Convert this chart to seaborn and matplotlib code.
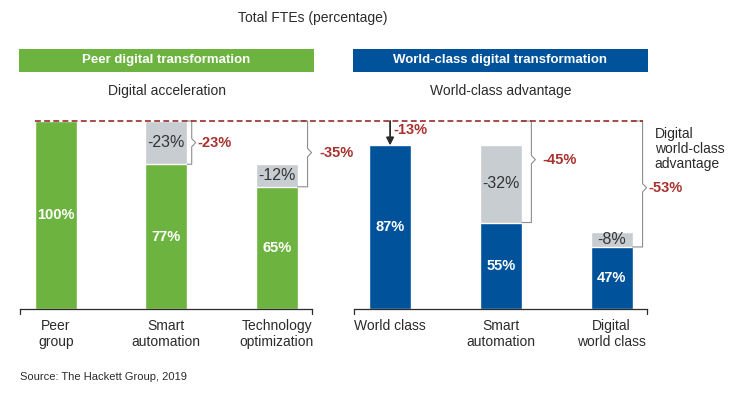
import matplotlib
matplotlib.use("Agg")
import matplotlib.pyplot as plt
from matplotlib.lines import Line2D
from matplotlib.patches import Rectangle
import seaborn as sns
import pandas as pd

# ---- data ----
peer_stages = ["Peer\ngroup", "Smart\nautomation", "Technology\noptimization"]
peer_fte = [100, 77, 65]
peer_cut = [0, 23, 12]

wc_stages = ["World class", "Smart\nautomation", "Digital\nworld class"]
wc_fte = [87, 55, 47]          # printed values
wc_cut = [0, 32, 8]
# bar heights as drawn in the source graphic (the blue panel is not to scale)
wc_drawn = [87, 46, 33]
wc_drawn_cut = [0, 41, 8]

peer_steps = [("-23%", 1), ("-35%", 2)]
wc_steps = [("-13%", 0), ("-45%", 1), ("-53%", 2)]

GREEN = "#6cb33f"
BLUE = "#00529b"
GRAY = "#c8cdd2"
RED = "#a8322d"
DARK = "#2b2b2b"
LINE = "#8e8e8e"

sns.set_theme(style="white")
plt.rcParams["font.family"] = ["Liberation Sans", "DejaVu Sans"]

W, H = 748, 393
fig = plt.figure(figsize=(W / 100, H / 100), dpi=100)


def fx(px):
    return px / W


def fy(py):
    return 1 - py / H


def make_ax(x0, x1):
    ax = fig.add_axes([fx(x0), fy(309), (x1 - x0) / W, (309 - 121) / H])
    return ax


def draw_panel(ax, stages, base, cut, color, base_lbl, cut_lbl):
    df = pd.DataFrame({"stage": stages,
                       "top": [b + c for b, c in zip(base, cut)],
                       "base": base})
    sns.barplot(data=df, x="stage", y="top", color=GRAY, width=0.38,
                saturation=1, errorbar=None, ax=ax)
    sns.barplot(data=df, x="stage", y="base", color=color, width=0.38,
                saturation=1, errorbar=None, ax=ax)
    for i, (b, c) in enumerate(zip(base, cut)):
        ax.text(i, b / 2, f"{base_lbl[i]}%", ha="center", va="center",
                color="white", fontsize=10.5, fontweight="bold")
        if c:
            ax.text(i, b + c / 2, f"-{cut_lbl[i]}%", ha="center", va="center",
                    color="#333333", fontsize=11.5)
    ax.set_ylim(0, 100)
    ax.set_xlim(-0.326, 2.32)
    ax.set_xlabel("")
    ax.set_ylabel("")
    ax.set_yticks([])
    for s in ["left", "top", "right"]:
        ax.spines[s].set_visible(False)
    ax.spines["bottom"].set_color(DARK)
    ax.spines["bottom"].set_linewidth(0.9)
    ax.tick_params(axis="x", length=0, pad=7, labelsize=10, labelcolor=DARK)
    ax.patch.set_alpha(0)
    for xe in ax.get_xlim():
        ax.plot([xe, xe], [0, -2.7], color=DARK, lw=0.9, clip_on=False)


def bracket(ax, i, y_low, x_line, tip_frac, label, dx=0.05):
    x_edge = i + 0.19
    tip_y = y_low + (100 - y_low) * tip_frac
    xs = [x_edge, x_line, x_line, x_line + 0.036, x_line, x_line, x_edge]
    ys = [100, 100, tip_y + 2.2, tip_y, tip_y - 2.2, y_low, y_low]
    ax.plot(xs, ys, color=LINE, lw=0.8, clip_on=False)
    ax.text(x_line + dx, tip_y, label, ha="left", va="center",
            color=RED, fontsize=10.5, fontweight="bold", clip_on=False)


ax1 = make_ax(20, 312)
draw_panel(ax1, peer_stages, peer_fte, peer_cut, GREEN, peer_fte, peer_cut)
bracket(ax1, peer_steps[0][1], peer_fte[1], 1.23, 0.5, peer_steps[0][0])
bracket(ax1, peer_steps[1][1], peer_fte[2], 2.28, 0.52, peer_steps[1][0], dx=0.11)

ax2 = make_ax(354, 647)
draw_panel(ax2, wc_stages, wc_drawn, wc_drawn_cut, BLUE, wc_fte, wc_cut)
ax2.annotate("", xy=(wc_steps[0][1], wc_drawn[0]), xytext=(wc_steps[0][1], 100),
             arrowprops=dict(arrowstyle="-|>", color=DARK, lw=1.3,
                             mutation_scale=11, shrinkA=0, shrinkB=0),
             annotation_clip=False)
ax2.text(0.03, 95, wc_steps[0][0], ha="left", va="center", color=RED,
         fontsize=10.5, fontweight="bold")
bracket(ax2, wc_steps[1][1], wc_drawn[1], 1.276, 0.62, wc_steps[1][0], dx=0.1)
bracket(ax2, wc_steps[2][1], wc_drawn[2], 2.28, 0.47, wc_steps[2][0])
ax2.text(2.39, 97, "Digital\nworld-class\nadvantage", ha="left", va="top",
         color=DARK, fontsize=10, linespacing=1.1, clip_on=False)

# dashed peer-group reference line
fig.add_artist(Line2D([fx(35), fx(643)], [fy(121), fy(121)], transform=fig.transFigure,
                      color="#9b2b2b", lw=1.2, linestyle=(0, (3.5, 2))))

# titles and headers
fig.text(fx(313), fy(18), "Total FTEs (percentage)", ha="center", va="center",
         fontsize=10, color=DARK)
for (x0, x1, col, txt, sub) in [(19, 314, GREEN, "Peer digital transformation", "Digital acceleration"),
                                (353, 648, BLUE, "World-class digital transformation", "World-class advantage")]:
    fig.add_artist(Rectangle((fx(x0), fy(72)), (x1 - x0) / W, 23 / H,
                             transform=fig.transFigure, color=col, lw=0))
    fig.text(fx((x0 + x1) / 2), fy(60.5), txt, ha="center", va="center",
             color="white", fontsize=9.5, fontweight="bold")
    fig.text(fx((x0 + x1) / 2), fy(91), sub, ha="center", va="center",
             color=DARK, fontsize=10)

fig.text(fx(20), fy(377), "Source: The Hackett Group, 2019", ha="left", va="center",
         fontsize=8, color=DARK)

fig.savefig("out.png", dpi=100, facecolor="white")
